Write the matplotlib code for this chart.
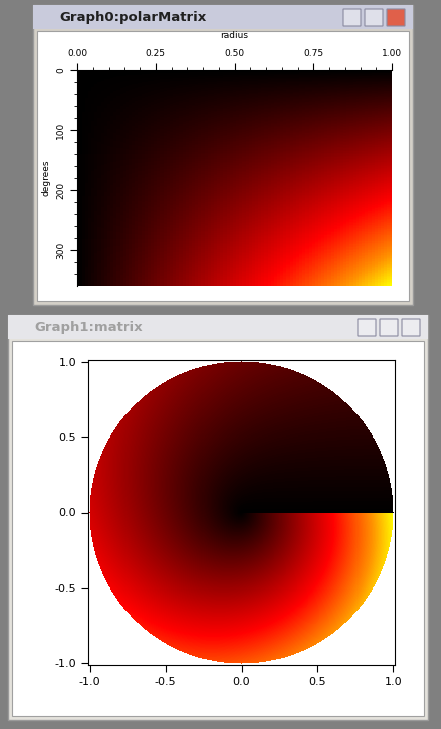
import numpy as np
import matplotlib
matplotlib.use('Agg')
import matplotlib.pyplot as plt
from matplotlib.colors import LinearSegmentedColormap
from matplotlib.patches import Rectangle, FancyBboxPatch

W, H = 441, 729

# data: the polar matrix sampled on radius x degrees
radius = np.linspace(0.0, 1.0, 101)
degrees = np.linspace(0.0, 359.0, 360)
radius_ticks = [0.0, 0.25, 0.5, 0.75, 1.0]
radius_labels = ['0.00', '0.25', '0.50', '0.75', '1.00']
degree_ticks = [0, 100, 200, 300]
xy_ticks = [-1.0, -0.5, 0.0, 0.5, 1.0]
xy_labels = ['-1.0', '-0.5', '0.0', '0.5', '1.0']

cmap = LinearSegmentedColormap.from_list(
    'igor_red', [(0.0, '#000000'), (0.6, '#ff0000'), (0.85, '#ff9000'), (1.0, '#ffff00')])


def px(x0, y0, x1, y1):
    """pixel box -> figure fraction rect"""
    return [x0 / W, 1 - y1 / H, (x1 - x0) / W, (y1 - y0) / H]


def window(fig, x0, y0, x1, y1, title, active):
    """draw an XP-ish window frame, behind the axes"""
    frame = '#d4d0c8' if active else '#e4e2dc'
    fig.patches.append(Rectangle((x0 / W, 1 - y1 / H), (x1 - x0) / W, (y1 - y0) / H,
                                 transform=fig.transFigure, fc=frame, ec='#9a9a9a', lw=1,
                                 zorder=-3))
    bar = '#c9cbdc' if active else '#e6e6ea'
    fig.patches.append(Rectangle((x0 / W, 1 - (y0 + 24) / H), (x1 - x0) / W, 24 / H,
                                 transform=fig.transFigure, fc=bar, ec='none', zorder=-2))
    fig.patches.append(Rectangle(((x0 + 4) / W, 1 - (y1 - 4) / H), (x1 - x0 - 8) / W,
                                 (y1 - y0 - 30) / H, transform=fig.transFigure,
                                 fc='white', ec='#a0a0a0', lw=0.8, zorder=-2))
    fig.text((x0 + 26) / W, 1 - (y0 + 12) / H, title, fontsize=9.5, va='center',
             fontweight='bold', color='#202020' if active else '#a0a0a0')
    # min / max / close buttons
    for i, c in enumerate(['#dfe0ea', '#dfe0ea', '#e0604a']):
        bx = x1 - 70 + i * 22
        fig.patches.append(FancyBboxPatch((bx / W, 1 - (y0 + 21) / H), 18 / W, 17 / H,
                                          boxstyle='round,pad=0', transform=fig.transFigure,
                                          fc=c if active else '#ececf0', ec='#8a8aa0', lw=0.8,
                                          zorder=-1))


fig = plt.figure(figsize=(W / 100, H / 100), dpi=100)
fig.patch.set_facecolor('#808080')

window(fig, 33, 5, 413, 305, 'Graph0:polarMatrix', True)
window(fig, 8, 315, 428, 720, 'Graph1:matrix', False)

# top graph: matrix image
ax = fig.add_axes(px(77, 70, 392, 286))
z = np.outer(degrees / 360.0, radius)
ax.pcolormesh(radius, degrees, z, cmap=cmap, shading='auto', vmin=0, vmax=1)
ax.set_xlim(0, 1)
ax.set_ylim(360, 0)
ax.xaxis.tick_top()
ax.xaxis.set_label_position('top')
ax.set_xticks(radius_ticks)
ax.set_xticklabels(radius_labels)
ax.set_xticks(np.arange(0, 1.001, 0.05), minor=True)
ax.set_yticks(degree_ticks)
ax.set_yticks(np.arange(0, 360, 20), minor=True)
ax.set_yticklabels([str(t) for t in degree_ticks], rotation=90, va='center')
ax.set_xlabel('radius', fontsize=6.5, labelpad=8)
ax.set_ylabel('degrees', fontsize=6.5, labelpad=4)
ax.tick_params(labelsize=6.5, direction='out', length=5, width=0.8)
ax.tick_params(which='minor', direction='out', length=2.5, width=0.6)
for s in ['bottom', 'right']:
    ax.spines[s].set_visible(False)

# bottom graph: polar image on x/y
ax2 = fig.add_axes(px(88, 360, 395, 665))
g = np.linspace(-1, 1, 301)
X, Y = np.meshgrid(g, g)
R = np.hypot(X, Y)
T = np.degrees(np.arctan2(Y, X)) % 360
Z = np.ma.masked_where(R > 1, R * T / 360.0)
ax2.pcolormesh(g, g, Z, cmap=cmap, shading='auto', vmin=0, vmax=1)
ax2.set_xlim(-1.01, 1.01)
ax2.set_ylim(-1.01, 1.01)
ax2.set_xticks(xy_ticks)
ax2.set_xticklabels(xy_labels)
ax2.set_yticks(xy_ticks)
ax2.set_yticklabels(xy_labels)
ax2.tick_params(labelsize=8, direction='out', length=5, width=0.8)
for s in ax2.spines.values():
    s.set_linewidth(0.8)

fig.savefig('out.png', dpi=100, facecolor=fig.get_facecolor())
